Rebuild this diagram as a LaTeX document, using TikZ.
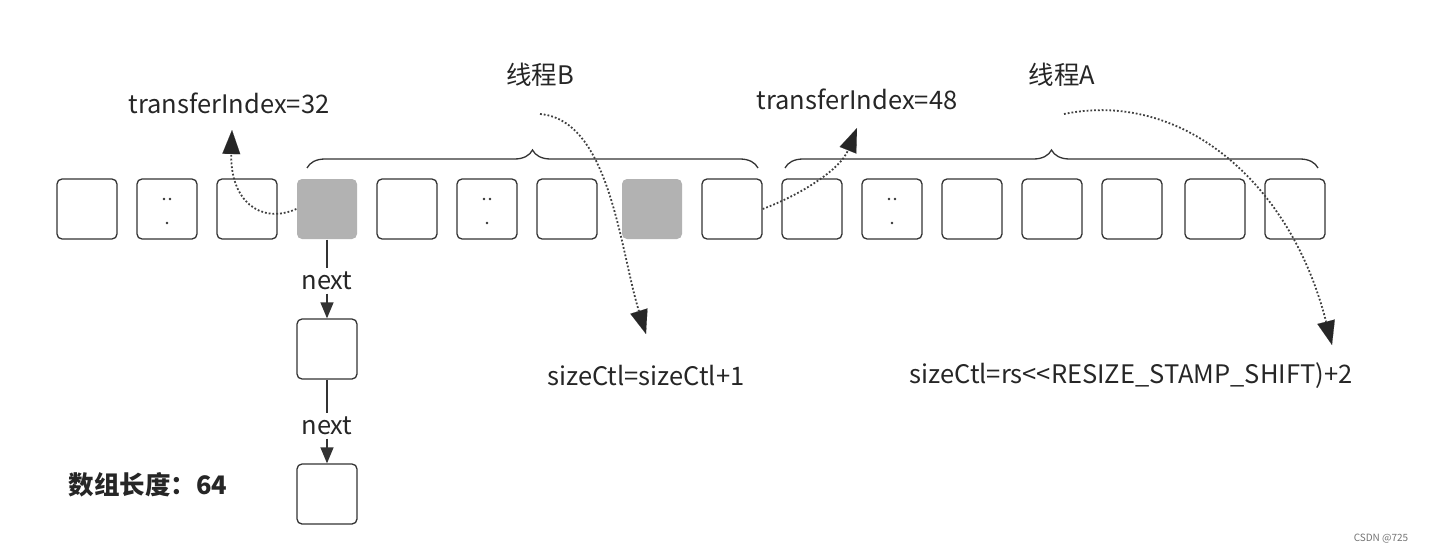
\documentclass[tikz,border=0pt]{standalone}
\usepackage{fontspec}
\setmainfont{Noto Sans CJK SC}
\usetikzlibrary{decorations.pathreplacing,arrows.meta}
\begin{document}
\begin{tikzpicture}[x=1pt,y=-1pt,
  cell/.style={draw=black!80,line width=1.3pt,rounded corners=5pt,minimum width=60pt,minimum height=60pt,inner sep=0pt},
  filled/.style={cell,fill=black!30,draw=none},
  lbl/.style={font=\fontsize{25.5}{30}\selectfont,text=black!85},
  dots/.style={dotted,line width=1.8pt,black!75,-{Triangle[length=24pt,width=18pt,fill=black!85,line width=0.1pt]}},
  br/.style={decorate,decoration={brace,amplitude=18pt},line width=1.3pt,black!80},
  arr/.style={line width=1.3pt,black!80}]
\useasboundingbox (0,0) rectangle (1430,554);
\foreach \x [count=\i] in {87,167,247,327,407,487,567,652,732,812,892,972,1052,1132,1215,1295}{
  \ifnum\i=4 \node[filled] (c\i) at (\x,209) {};
  \else\ifnum\i=8 \node[filled] (c\i) at (\x,209) {};
  \else \node[cell] (c\i) at (\x,209) {};\fi\fi}
\foreach \i in {2,6,11}{
  \fill[black!80] ([xshift=-3pt,yshift=10pt]c\i.center) circle (1.3pt) ([xshift=3pt,yshift=10pt]c\i.center) circle (1.3pt) ([yshift=-14pt]c\i.center) circle (1.3pt);}
\draw[br] (307,168) -- (758,168);
\draw[br] (785,168) -- (1318,168);
\node[lbl] (tb) at (540,75) {线程B};
\node[lbl] (ta) at (1062,75) {线程A};
\node[lbl] (t32) at (229,103) {transferIndex=32};
\node[lbl] (t48) at (857,99) {transferIndex=48};
\node[lbl] (s1) at (646,376) {sizeCtl=sizeCtl+1};
\node[lbl] (s2) at (1131,376) {sizeCtl=rs{<}{<}RESIZE\_STAMP\_SHIFT)+2};
\node[lbl,font=\bfseries\fontsize{25.5}{30}\selectfont] (len) at (148,485) {数组长度：64};
\node[cell] (n1) at (327,349) {};
\node[cell] (n2) at (327,494) {};
\node[lbl] (nx1) at (327,281) {next};
\node[lbl] (nx2) at (327,426) {next};
\draw[arr] (c4.south) -- (nx1.north);
\draw[arr,-{Triangle[length=16pt,width=13pt]}] (nx1.south) -- (n1.north);
\draw[arr] (n1.south) -- (nx2.north);
\draw[arr,-{Triangle[length=16pt,width=13pt]}] (nx2.south) -- (n2.north);
\coordinate (a1) at (232,130);
\coordinate (a2) at (857,128);
\coordinate (a3) at (646,334);
\coordinate (a4) at (1332,345);
\coordinate (b1) at (540,114);
\coordinate (b2) at (1064,114);
\draw[dots] (c4.west) .. controls (260,225) and (230,200) .. (a1);
\draw[dots] (c9.east) .. controls (800,195) and (840,170) .. (a2);
\draw[dots] (b1) .. controls (610,120) and (620,250) .. (a3);
\draw[dots] (b2) .. controls (1180,90) and (1290,180) .. (a4);
\node[font=\fontsize{10}{11}\selectfont,text=black!55] (wm) at (1381,539) {CSDN @725};
\end{tikzpicture}
\end{document}
